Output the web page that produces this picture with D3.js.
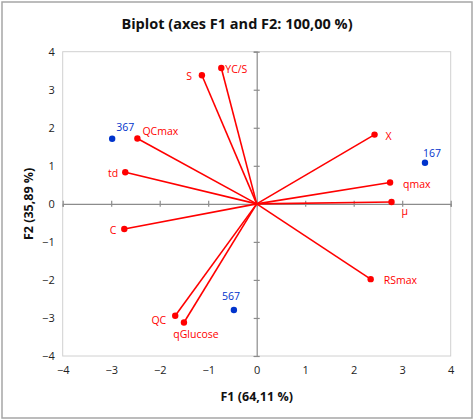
<!DOCTYPE html>
<html><head><meta charset="utf-8">
<script src="https://cdn.jsdelivr.net/npm/d3@7"></script>
<style>body{margin:0;background:#fff}text{font-family:"Open Sans","Liberation Sans",sans-serif}</style>
</head><body><svg id="c" width="474" height="420"></svg>
<script>
const varNames = ["YC/S","S","QCmax","td","C","QC","qGlucose","X","qmax","μ","RSmax"];
const varF1 = [-0.73,-1.13,-2.46,-2.71,-2.73,-1.68,-1.50,2.43,2.75,2.78,2.35];
const varF2 = [3.57,3.38,1.72,0.83,-0.66,-2.94,-3.12,1.82,0.56,0.05,-1.98];
const obsNames = ["367","167","567"];
const obsF1 = [-2.98,3.47,-0.47];
const obsF2 = [1.71,1.08,-2.79];
const ticks = [-4,-3,-2,-1,0,1,2,3,4];
// label placement (pixel offsets, anchor)
const varLab = [[4,5,"start"],[-10,5,"end"],[5,-3,"start"],[-7,5,"end"],[-8,5,"end"],[-9,8,"end"],[12,15,"middle"],[11,5,"start"],[13,5,"start"],[10,13,"start"],[13,5,"start"]];
const obsLab = [[13,-8,"middle"],[7,-6,"middle"],[-3,-10,"middle"]];

const svg = d3.select("#c");
svg.append("rect").attr("x",2).attr("y",2).attr("width",470).attr("height",416).attr("fill","#fff").attr("stroke","#a6a6a6").attr("stroke-width",1.5);
const x = d3.scaleLinear().domain([-4,4]).range([62.7,450.7]);
const y = d3.scaleLinear().domain([-4,4]).range([356,51.7]);
svg.append("rect").attr("x",x(-4)).attr("y",y(4)).attr("width",x(4)-x(-4)).attr("height",y(-4)-y(4)).attr("fill","none").attr("stroke","#d0d0d0");
const gx = svg.append("g").attr("transform",`translate(0,${y(0)})`).call(d3.axisBottom(x).tickValues(ticks).tickSize(3).tickFormat(""));
const gy = svg.append("g").attr("transform",`translate(${x(0)},0)`).call(d3.axisLeft(y).tickValues(ticks).tickSize(3).tickFormat(""));
[gx,gy].forEach(g=>{g.selectAll("path,line").attr("stroke","#8c8c8c").attr("stroke-width",1.2);});
gy.selectAll(".tick line").attr("x2",3).attr("x1",-3);
gx.selectAll(".tick line").attr("y1",-3).attr("y2",3);
svg.append("g").attr("transform",`translate(0,${y(-4)})`).call(d3.axisBottom(x).tickValues(ticks).tickSize(0).tickPadding(10).tickFormat(d3.format("d")))
 .call(g=>{g.select(".domain").remove();g.selectAll("text").attr("font-size",11).attr("fill","#222");});
svg.append("g").attr("transform",`translate(${x(-4)},0)`).call(d3.axisLeft(y).tickValues(ticks).tickSize(0).tickPadding(8).tickFormat(d3.format("d")))
 .call(g=>{g.select(".domain").remove();g.selectAll("text").attr("font-size",11).attr("fill","#222");});
svg.append("text").attr("x",237).attr("y",29).attr("text-anchor","middle").attr("font-size",14.5).attr("font-weight","bold").attr("fill","#111").text("Biplot (axes F1 and F2: 100,00 %)");
svg.append("text").attr("x",x(0)).attr("y",401).attr("text-anchor","middle").attr("font-size",12.5).attr("font-weight","bold").attr("fill","#111").text("F1 (64,11 %)");
svg.append("text").attr("transform",`translate(33,${y(0)}) rotate(-90)`).attr("text-anchor","middle").attr("font-size",12.5).attr("font-weight","bold").attr("fill","#111").text("F2 (35,89 %)");
const red="#ff0000", blue="#0033cc";
varNames.forEach((n,i)=>{
  const px=x(varF1[i]), py=y(varF2[i]);
  svg.append("line").attr("x1",x(0)).attr("y1",y(0)).attr("x2",px).attr("y2",py).attr("stroke",red).attr("stroke-width",1.6);
  svg.append("circle").attr("cx",px).attr("cy",py).attr("r",3.2).attr("fill",red);
  svg.append("text").attr("x",px+varLab[i][0]).attr("y",py+varLab[i][1]).attr("text-anchor",varLab[i][2]).attr("font-size",10.5).attr("fill",red).text(n);
});
obsNames.forEach((n,i)=>{
  const px=x(obsF1[i]), py=y(obsF2[i]);
  svg.append("circle").attr("cx",px).attr("cy",py).attr("r",3.2).attr("fill",blue);
  svg.append("text").attr("x",px+obsLab[i][0]).attr("y",py+obsLab[i][1]).attr("text-anchor",obsLab[i][2]).attr("font-size",10.5).attr("fill",blue).text(n);
});
</script></body></html>
